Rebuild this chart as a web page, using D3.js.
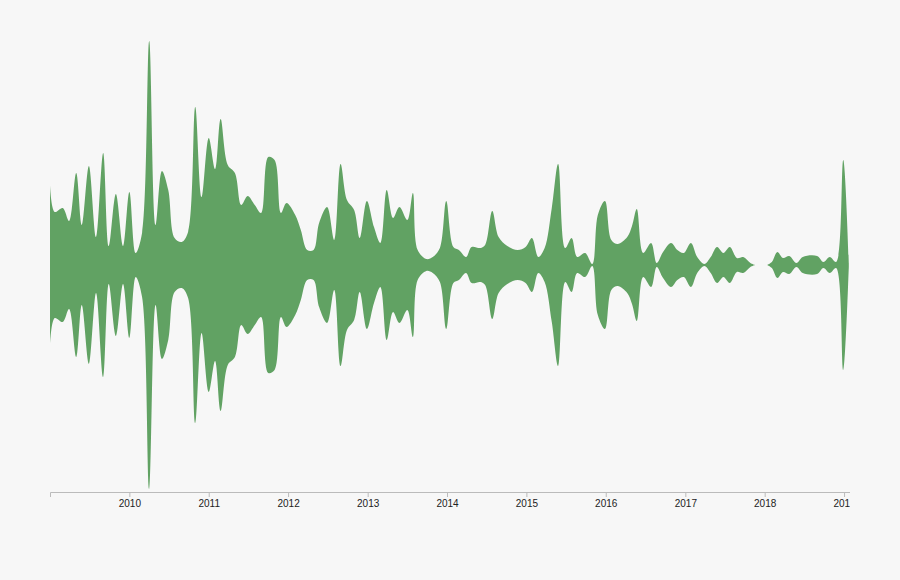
<!DOCTYPE html>
<html><head><meta charset="utf-8">
<script src="https://cdn.jsdelivr.net/npm/d3@7"></script>
<style>html,body{margin:0;background:#f7f7f7;}svg{display:block;}</style>
</head><body><svg id="c" width="850" height="580"></svg>
<script>
const years = [2009.00,2009.06,2009.16,2009.24,2009.33,2009.40,2009.49,2009.58,2009.67,2009.74,2009.83,2009.92,2010.00,2010.08,2010.16,2010.25,2010.33,2010.41,2010.49,2010.57,2010.66,2010.74,2010.83,2010.91,2011.00,2011.08,2011.15,2011.24,2011.33,2011.41,2011.49,2011.58,2011.66,2011.75,2011.83,2011.91,2011.98,2012.09,2012.16,2012.24,2012.32,2012.39,2012.49,2012.58,2012.66,2012.74,2012.83,2012.90,2012.99,2013.08,2013.16,2013.24,2013.32,2013.40,2013.50,2013.57,2013.63,2013.74,2013.82,2013.91,2013.99,2014.08,2014.15,2014.24,2014.31,2014.42,2014.48,2014.57,2014.65,2014.76,2014.89,2014.99,2015.07,2015.15,2015.23,2015.32,2015.40,2015.49,2015.57,2015.64,2015.74,2015.83,2015.90,2015.99,2016.07,2016.15,2016.27,2016.33,2016.39,2016.47,2016.57,2016.64,2016.72,2016.82,2016.90,2016.98,2017.07,2017.15,2017.24,2017.32,2017.40,2017.48,2017.56,2017.65,2017.73,2017.82,2017.88,2017.95,2018.03,2018.09,2018.16,2018.23,2018.31,2018.40,2018.48,2018.66,2018.74,2018.82,2018.90,2018.99,2019.06];
const values = [80,53,57,44,92,40,99,28,112,19,71,19,73,12,32,224,40,94,75,27,23,33,158,68,127,96,146,100,92,60,69,60,52,108,105,52,62,50,35,15,15,42,58,25,101,65,55,27,64,38,22,75,47,58,45,72,15,6,8,17,64,18,15,8,18,17,20,54,28,19,15,18,27,8,17,57,101,17,27,8,12,1,50,64,25,21,28,39,56,12,22,2,13,22,15,12,22,8,1,8,18,12,18,7,8,2,0,null,0,3,13,7,9,2,8,9,3,8,3,105,2];
const tickYears = [2010,2011,2012,2013,2014,2015,2016,2017,2018,2019];

const toDate = y => { const yr = Math.floor(y); const s = new Date(yr,0,1), e = new Date(yr+1,0,1); return new Date(+s + (y-yr)*(e-s)); };
const data = years.map((y,i)=>({d:toDate(y), v:values[i]}));
const svg = d3.select('#c');
const x = d3.scaleTime().domain([toDate(2009.0), toDate(2019.075)]).range([50,850]);
const y = d3.scaleLinear().domain([-250,250]).range([515,15]);
const area = d3.area().defined(d=>d.v!=null).curve(d3.curveCatmullRom)
  .x(d=>x(d.d)).y0(d=>y(-d.v)).y1(d=>y(d.v));
svg.append('path').datum(data).attr('d',area).attr('fill','#61a263');
const ax = svg.append('g').attr('transform','translate(0,492)')
  .call(d3.axisBottom(x).tickValues(tickYears.map(t=>new Date(t,0,1))).tickFormat(d3.timeFormat('%Y')).tickSize(5).tickSizeOuter(5));
ax.selectAll('path,line').attr('stroke','#bbb');
ax.selectAll('text').attr('fill','#222').style('font-family','Liberation Sans, Arial').style('font-size','10px');
</script></body></html>
